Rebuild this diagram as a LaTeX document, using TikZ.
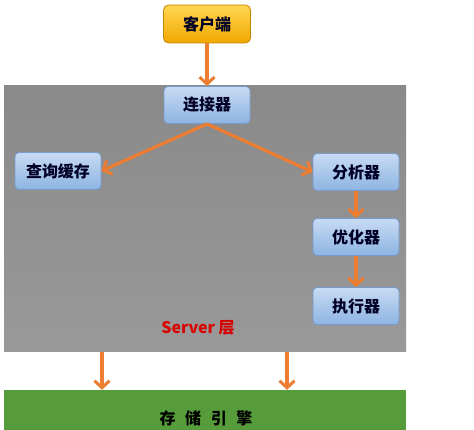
\documentclass[tikz,border=0pt]{standalone}
\usepackage{fontspec}
\usepackage{tikz}
\usetikzlibrary{arrows.meta}
\newfontfamily\cjk{Noto Sans CJK SC}[BoldFont={Noto Sans CJK SC Black}]
\definecolor{arrowor}{RGB}{237,125,49}
\definecolor{boxtop}{RGB}{200,219,243}
\definecolor{boxbot}{RGB}{141,180,226}
\definecolor{boxline}{RGB}{120,155,205}
\definecolor{goldtop}{RGB}{255,214,80}
\definecolor{goldbot}{RGB}{240,168,0}
\definecolor{enginegreen}{RGB}{86,156,58}

\begin{document}
\begin{tikzpicture}[x=1pt,y=-1pt]
	\tikzstyle{box}=[rectangle,rounded corners=4pt,draw=boxline,line width=0.8pt,top color=boxtop,bottom color=boxbot,minimum width=86pt,minimum height=37pt,font=\cjk\bfseries\fontsize{16}{19}\selectfont,text=black!85!blue]
	\tikzstyle{flow}=[draw=arrowor,line width=3.2pt,-{Straight Barb[length=7pt,width=15pt,line width=3pt]}]
	\useasboundingbox (0,0) rectangle (474,430);
	% layers
	\node[rectangle,top color=black!46,bottom color=black!40,minimum width=402pt,minimum height=266pt,inner sep=0pt](server) at (205,219) {};
	\node[rectangle,fill=enginegreen,minimum width=402pt,minimum height=40pt,inner sep=0pt](engine) at (205,410) {};
	\node[font=\cjk\bfseries\fontsize{16}{19}\selectfont,text=red!85!black](srvlabel) at (198,328) {Server 层};
	\node[font=\cjk\bfseries\fontsize{16}{19}\selectfont](enginelabel) at (206,418) {存\hspace{0.6em}储\hspace{0.6em}引\hspace{0.6em}擎};
	% boxes
	\node[box,rounded corners=5pt,draw=goldbot!80!black,top color=goldtop,bottom color=goldbot,minimum width=87pt,minimum height=38pt](client) at (207,24) {客户端};
	\node[box](conn) at (207,105) {连接器};
	\node[box](cache) at (58,171) {查询缓存};
	\node[box](parser) at (356,172) {分析器};
	\node[box](optim) at (356,237) {优化器};
	\node[box](exec) at (356,306) {执行器};
	\coordinate (c1) at (102,0);
	\coordinate (c2) at (287,0);
	\path
		(client) edge[flow] node {} (conn)
		(conn.south) edge[flow] node {} (cache.east)
		(conn.south) edge[flow] node {} (parser.west)
		(parser) edge[flow] node {} (optim)
		(optim) edge[flow] node {} (exec);
	\draw[flow] (server.south -| c1) -- (engine.north -| c1);
	\draw[flow] (server.south -| c2) -- (engine.north -| c2);
\end{tikzpicture}
\end{document}
